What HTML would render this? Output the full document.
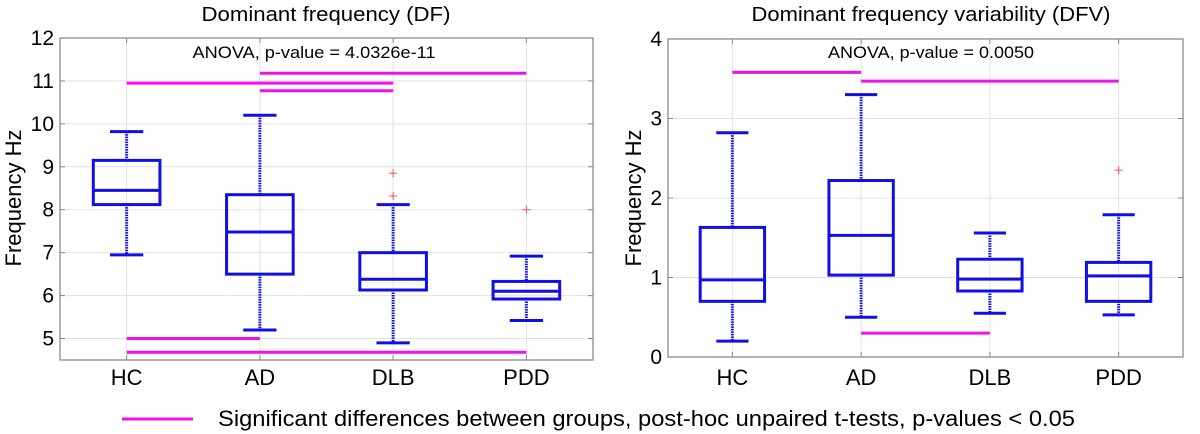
<!DOCTYPE html>
<html><head><meta charset="utf-8"><style>
html,body{margin:0;padding:0;background:#fff;}
svg{display:block;font-family:"Liberation Sans",sans-serif;}
</style></head><body>
<svg id="fig" width="1200" height="434" viewBox="0 0 1200 434" xmlns="http://www.w3.org/2000/svg"></svg>
<script>
const categories = ["HC","AD","DLB","PDD"];
// Left chart: Dominant frequency
const dfLow   = [6.95, 5.2, 4.9, 5.42];
const dfQ1    = [8.12, 6.5, 6.13, 5.92];
const dfMed   = [8.45, 7.48, 6.38, 6.1];
const dfQ3    = [9.15, 8.35, 7.0, 6.33];
const dfHigh  = [9.82, 10.2, 8.12, 6.92];
const dfOutliers = [[2, 8.85], [2, 8.32], [3, 8.0]];
const dfSig = [[0, 2, 10.95], [1, 3, 11.18], [1, 2, 10.77], [0, 1, 5.0], [0, 3, 4.68]];
const dfTicks = [5, 6, 7, 8, 9, 10, 11, 12];
// Right chart: Dominant frequency variability
const dfvLow  = [0.2, 0.5, 0.55, 0.53];
const dfvQ1   = [0.7, 1.03, 0.83, 0.7];
const dfvMed  = [0.97, 1.53, 0.98, 1.02];
const dfvQ3   = [1.63, 2.22, 1.23, 1.19];
const dfvHigh = [2.82, 3.3, 1.56, 1.79];
const dfvOutliers = [[3, 2.35]];
const dfvSig = [[0, 1, 3.58], [1, 3, 3.47], [1, 2, 0.3]];
const dfvTicks = [0, 1, 2, 3, 4];

const NS = "http://www.w3.org/2000/svg";
const svg = document.getElementById("fig");
function mk(tag, attrs, parent, text) {
  const e = document.createElementNS(NS, tag);
  for (const k in attrs) e.setAttribute(k, attrs[k]);
  if (text !== undefined) e.textContent = text;
  (parent || svg).appendChild(e);
  return e;
}

function drawChart(cfg) {
  const g = mk("g", {});
  
  
  const {x0, x1, y0, y1, ymin, ymax} = cfg;
  const xs = i => x0 + (i + 1 - 0.5) / 4 * (x1 - x0);
  const ys = v => y1 - (v - ymin) / (ymax - ymin) * (y1 - y0);
  const ux = (x1 - x0) / 4;
  categories.forEach((c, i) => {
    const l = mk("line", {x1: xs(i), x2: xs(i), y1: y0, y2: y1, stroke: "#e2e2e2", "stroke-width": 1}, g);
    
    
    mk("line", {x1: xs(i), x2: xs(i), y1: y1, y2: y1 - 5, stroke: "#888", "stroke-width": 1}, g);
    mk("line", {x1: xs(i), x2: xs(i), y1: y0, y2: y0 + 5, stroke: "#888", "stroke-width": 1}, g);
    const t = mk("text", {x: xs(i), y: 385, "text-anchor": "middle", "font-size": 22, fill: "#000"}, g, c);
    
    
  });
  cfg.ticks.forEach(v => {
    const l = mk("line", {x1: x0, x2: x1, y1: ys(v), y2: ys(v), stroke: "#e2e2e2", "stroke-width": 1}, g);
    
    
    mk("line", {x1: x0, x2: x0 + 5, y1: ys(v), y2: ys(v), stroke: "#888", "stroke-width": 1}, g);
    mk("line", {x1: x1, x2: x1 - 5, y1: ys(v), y2: ys(v), stroke: "#888", "stroke-width": 1}, g);
    const t = mk("text", {x: x0 - 6, y: ys(v) + 7, "text-anchor": "end", "font-size": 21, fill: "#000"}, g, String(v));
    
    
  });
  const frame = mk("rect", {x: x0, y: y0, width: x1 - x0, height: y1 - y0, fill: "none", stroke: "#8a8a8a", "stroke-width": 1.3}, g);
  
  
  const B = "#1010e6";
  categories.forEach((c, i) => {
    const bg = mk("g", {}, g);
    
    
    const cx = xs(i);
    mk("line", {x1: cx, x2: cx, y1: ys(cfg.high[i]), y2: ys(cfg.q3[i]), stroke: B, "stroke-width": 3, "stroke-dasharray": "1.5,1"}, bg);
    mk("line", {x1: cx, x2: cx, y1: ys(cfg.q1[i]), y2: ys(cfg.low[i]), stroke: B, "stroke-width": 3, "stroke-dasharray": "1.5,1"}, bg);
    mk("line", {x1: cx - ux / 8, x2: cx + ux / 8, y1: ys(cfg.high[i]), y2: ys(cfg.high[i]), stroke: B, "stroke-width": 3}, bg);
    mk("line", {x1: cx - ux / 8, x2: cx + ux / 8, y1: ys(cfg.low[i]), y2: ys(cfg.low[i]), stroke: B, "stroke-width": 3}, bg);
    mk("rect", {x: cx - ux / 4, y: ys(cfg.q3[i]), width: ux / 2, height: ys(cfg.q1[i]) - ys(cfg.q3[i]), fill: "none", stroke: B, "stroke-width": 3}, bg);
    mk("line", {x1: cx - ux / 4, x2: cx + ux / 4, y1: ys(cfg.med[i]), y2: ys(cfg.med[i]), stroke: B, "stroke-width": 3}, bg);
  });
  cfg.outliers.forEach(o => {
    const cx = xs(o[0]), cy = ys(o[1]);
    const og = mk("g", {stroke: "#ff5050", "stroke-width": 1}, g);
    
    
    mk("line", {x1: cx - 4, x2: cx + 4, y1: cy, y2: cy}, og);
    mk("line", {x1: cx, x2: cx, y1: cy - 4, y2: cy + 4}, og);
  });
  cfg.sig.forEach(s => {
    const l = mk("line", {x1: xs(s[0]), x2: xs(s[1]), y1: ys(s[2]), y2: ys(s[2]), stroke: "#f010f0", "stroke-width": 3}, g);
    
    
  });
  const t = mk("text", {x: cfg.tx - cfg.tw / 2, y: 21, "font-size": 20, fill: "#000", textLength: cfg.tw, lengthAdjust: "spacingAndGlyphs"}, g, cfg.title);
  
  
  const a = mk("text", {x: cfg.ax - cfg.aw / 2, y: 58, "font-size": 17, fill: "#000", textLength: cfg.aw, lengthAdjust: "spacingAndGlyphs"}, g, cfg.anova);
  
  
  const yl = mk("text", {x: 0, y: 0, "text-anchor": "middle", "font-size": 22, fill: "#000", transform: `translate(${cfg.ylx},198) rotate(-90)`}, g, "Frequency Hz");
  
  
}

drawChart({name: "df-chart", x0: 60, x1: 593, y0: 38, y1: 360, ymin: 4.5, ymax: 12,
  low: dfLow, q1: dfQ1, med: dfMed, q3: dfQ3, high: dfHigh, outliers: dfOutliers, sig: dfSig, ticks: dfTicks,
  title: "Dominant frequency (DF)", anova: "ANOVA, p-value = 4.0326e-11", tx: 326, tw: 249, ax: 314, aw: 243, ylx: 21});
drawChart({name: "dfv-chart", x0: 668, x1: 1183, y0: 39, y1: 357, ymin: 0, ymax: 4,
  low: dfvLow, q1: dfvQ1, med: dfvMed, q3: dfvQ3, high: dfvHigh, outliers: dfvOutliers, sig: dfvSig, ticks: dfvTicks,
  title: "Dominant frequency variability (DFV)", anova: "ANOVA, p-value = 0.0050", tx: 931, tw: 359, ax: 931, aw: 206, ylx: 641});

const lg = mk("g", {});


mk("line", {x1: 122, x2: 193, y1: 419, y2: 419, stroke: "#f010f0", "stroke-width": 3}, lg);
const lt = mk("text", {x: 218, y: 426, "font-size": 22, fill: "#000", textLength: 857, lengthAdjust: "spacingAndGlyphs"}, lg, "Significant differences between groups, post-hoc unpaired t-tests, p-values < 0.05");


</script>
</body></html>
